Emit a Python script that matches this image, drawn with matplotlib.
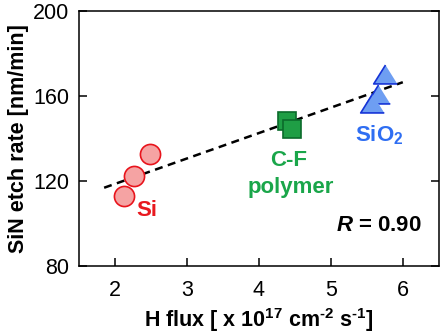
import matplotlib
matplotlib.use('Agg')
import matplotlib.pyplot as plt
import numpy as np

plt.rcParams['font.family'] = ['Liberation Sans', 'DejaVu Sans']
plt.rcParams['mathtext.fontset'] = 'custom'
plt.rcParams['mathtext.rm'] = 'Liberation Sans:bold'
plt.rcParams['mathtext.bf'] = 'Liberation Sans:bold'
plt.rcParams['mathtext.it'] = 'Liberation Sans:italic:bold'
plt.rcParams['mathtext.default'] = 'bf'

# data
si_x = [2.12, 2.26, 2.49]
si_y = [113.0, 122.6, 132.8]
cf_x = [4.39, 4.46]
cf_y = [148.3, 144.5]
sio2_x = [5.75, 5.66, 5.57]
sio2_y = [170.5, 161.0, 156.6]
fit_x = [1.85, 6.0]

xticks = [2, 3, 4, 5, 6]
yticks = [80, 120, 160, 200]

fig, ax = plt.subplots(figsize=(4.41, 3.34), dpi=100)
fig.subplots_adjust(left=0.179, right=0.995, top=0.966, bottom=0.204)

# regression line through all points
all_x = np.array(si_x + cf_x + sio2_x)
all_y = np.array(si_y + cf_y + sio2_y)
k, b = np.polyfit(all_x, all_y, 1)
fx = np.array(fit_x)
ax.plot(fx, k * fx + b, color='black', lw=1.8, dashes=(3.2, 2.2), zorder=2)

ax.plot(si_x, si_y, 'o', ms=14.5, mfc='#f5a3a3', mec='#e8141c', mew=1.2, zorder=3)
ax.plot(cf_x, cf_y, 's', ms=12.5, mfc='#1f9e45', mec='#0b6b2b', mew=1.2, zorder=3)
tri = [(0, 0.8), (-1, -0.8), (1, -0.8)]
ax.plot(sio2_x, sio2_y, marker=tri, ls='none', ms=17, mfc='#6e9ef2',
        mec='#1533d6', mew=1.2, zorder=3)

ax.text(2.45, 106, 'Si', color='#e8191f', fontsize=16, fontweight='bold',
        ha='center', va='center')
ax.text(4.41, 129.6, 'C-F', color='#1aa64a', fontsize=16, fontweight='bold',
        ha='center', va='center')
ax.text(4.45, 117.0, 'polymer', color='#1aa64a', fontsize=16, fontweight='bold',
        ha='center', va='center')
ax.text(5.67, 141.5, r'SiO$_2$', color='#2f6ef2', fontsize=16, fontweight='bold',
        ha='center', va='center')
ax.text(6.27, 99.2, r'$\mathit{R}$ = 0.90', color='black', fontsize=16,
        fontweight='bold', ha='right', va='center')

ax.set_xlim(1.5, 6.5)
ax.set_ylim(80, 200)
ax.set_xticks(xticks)
ax.set_yticks(yticks)
ax.tick_params(direction='in', length=6, width=1.1, labelsize=15.5, pad=7,
               right=True, top=False)
ax.tick_params(axis='x', pad=10)
for s in ax.spines.values():
    s.set_linewidth(1.1)

ax.set_xlabel(r'H flux [ x 10$^{17}$ cm$^{\text{-}2}$ s$^{\text{-}1}$]', fontsize=15.5,
              fontweight='bold', labelpad=4)
ax.set_ylabel('SiN etch rate [nm/min]', fontsize=15.5, fontweight='bold',
              labelpad=3)

fig.savefig('out.png', dpi=100)
